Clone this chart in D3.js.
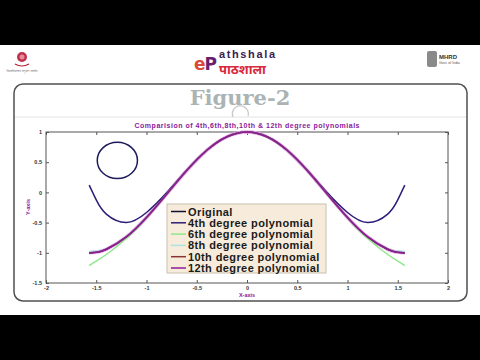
<!DOCTYPE html>
<html>
<head>
<meta charset="utf-8">
<script src="https://cdn.jsdelivr.net/npm/d3@7"></script>
<style>
  body { margin: 0; background: #000; }
  svg { display: block; }
</style>
</head>
<body>
<div id="chart"></div>
<script>
// sample points along x (radians)
const xVals = [-1.57, -1.5, -1.4, -1.2, -1.0, -0.8, -0.6, -0.4, -0.2, 0, 0.2, 0.4, 0.6, 0.8, 1.0, 1.2, 1.4, 1.5, 1.57];

const original = [-1.0, -0.990, -0.942, -0.737, -0.416, -0.029, 0.362, 0.697, 0.921, 1, 0.921, 0.697, 0.362, -0.029, -0.416, -0.737, -0.942, -0.990, -1.0];
const deg4 = [0.12, -0.125, -0.359, -0.498, -0.333, -0.007, 0.366, 0.697, 0.921, 1, 0.921, 0.697, 0.366, -0.007, -0.333, -0.498, -0.359, -0.125, 0.12];
const deg6 = [-1.212, -1.138, -1.028, -0.763, -0.422, -0.030, 0.362, 0.697, 0.921, 1, 0.921, 0.697, 0.362, -0.030, -0.422, -0.763, -1.028, -1.138, -1.212];
const deg8 = [-0.977, -0.975, -0.934, -0.736, -0.416, -0.029, 0.362, 0.697, 0.921, 1, 0.921, 0.697, 0.362, -0.029, -0.416, -0.736, -0.934, -0.975, -0.977];
const deg10 = [-1.003, -0.991, -0.942, -0.737, -0.416, -0.029, 0.362, 0.697, 0.921, 1, 0.921, 0.697, 0.362, -0.029, -0.416, -0.737, -0.942, -0.991, -1.003];
const deg12 = [-1.001, -0.990, -0.942, -0.737, -0.416, -0.029, 0.362, 0.697, 0.921, 1, 0.921, 0.697, 0.362, -0.029, -0.416, -0.737, -0.942, -0.990, -1.001];

const seriesNames = ["Original", "4th degree polynomial", "6th degree polynomial", "8th degree polynomial", "10th degree polynomial", "12th degree polynomial"];
const seriesColors = ["#10102e", "#2c1d78", "#8ee88a", "#a6e6de", "#8a3434", "#8c1c98"];
const seriesData = [original, deg4, deg6, deg8, deg10, deg12];

const xTicks = [-2, -1.5, -1, -0.5, 0, 0.5, 1, 1.5, 2];
const yTicks = [-1.5, -1, -0.5, 0, 0.5, 1];

const width = 480, height = 360;

const svg = d3.select("#chart").append("svg")
    .attr("width", width)
    .attr("height", height)
    .style("background", "#000");

// slide area
svg.append("rect")
    .attr("x", 0).attr("y", 45)
    .attr("width", width).attr("height", 270)
    .attr("fill", "#fff");

// --- header logos (rough) ---
const left = svg.append("g");
left.append("circle").attr("cx", 22).attr("cy", 57).attr("r", 5).attr("fill", "#c0304a");
left.append("circle").attr("cx", 22).attr("cy", 57).attr("r", 2.5).attr("fill", "#e88a9a");
left.append("path").attr("d", "M15,64 Q22,68 29,64").attr("stroke", "#b02030").attr("fill", "none").attr("stroke-width", 1.2);
left.append("text").attr("x", 22).attr("y", 72).attr("text-anchor", "middle")
    .attr("font-size", 3).attr("fill", "#777").attr("font-family", "Noto Sans").text("विश्वविद्यालय अनुदान आयोग");

const mid = svg.append("g");
const ep = mid.append("text").attr("x", 194).attr("y", 70)
    .attr("font-family", "DejaVu Sans").attr("font-weight", "bold").attr("font-size", 17);
ep.append("tspan").attr("fill", "#d84a3a").text("e");
ep.append("tspan").attr("fill", "#6a1f6e").attr("dx", -1).text("P");
mid.append("text").attr("x", 219).attr("y", 58)
    .attr("font-family", "Liberation Sans").attr("font-weight", "bold").attr("font-size", 11)
    .attr("fill", "#3a2050").attr("textLength", 56).text("athshala");
mid.append("text").attr("x", 219).attr("y", 74)
    .attr("font-family", "Noto Sans").attr("font-weight", "bold").attr("font-size", 13)
    .attr("fill", "#d8283a").text("पाठशाला");

const right = svg.append("g");
right.append("rect").attr("x", 427).attr("y", 51).attr("width", 10).attr("height", 16).attr("rx", 2).attr("fill", "#8a8a8a");
right.append("text").attr("x", 439).attr("y", 59)
    .attr("font-family", "Liberation Sans").attr("font-weight", "bold").attr("font-size", 6)
    .attr("fill", "#333").text("MHRD");
right.append("text").attr("x", 439).attr("y", 64)
    .attr("font-family", "Liberation Sans").attr("font-size", 3.5)
    .attr("fill", "#555").text("Govt. of India");

// --- rounded frame ---
svg.append("rect")
    .attr("x", 14).attr("y", 84)
    .attr("width", 453).attr("height", 217)
    .attr("rx", 9)
    .attr("fill", "#fff")
    .attr("stroke", "#505050")
    .attr("stroke-width", 1.5);

svg.append("text")
    .attr("x", 240).attr("y", 105)
    .attr("text-anchor", "middle")
    .attr("font-family", "DejaVu Serif")
    .attr("font-weight", "bold")
    .attr("font-size", 21)
    .attr("fill", "#abb4b4")
    .text("Figure-2");

svg.append("line")
    .attr("x1", 15).attr("x2", 466)
    .attr("y1", 117).attr("y2", 117)
    .attr("stroke", "#e2e2e2");

svg.append("path")
    .attr("d", "M233,117 A8,8 0 1 1 248,116")
    .attr("fill", "none").attr("stroke", "#c8c8c8").attr("stroke-width", 1.2);

// --- plot ---
const margin = { left: 46, top: 132, right: 448, bottom: 283 };
const x = d3.scaleLinear().domain([-2, 2]).range([margin.left, margin.right]);
const y = d3.scaleLinear().domain([-1.5, 1]).range([margin.bottom, margin.top]);

svg.append("text")
    .attr("x", 247).attr("y", 128)
    .attr("text-anchor", "middle")
    .attr("font-family", "Liberation Sans")
    .attr("font-weight", "bold")
    .attr("font-size", 7)
    .attr("fill", "#8a1a9a")
    .attr("textLength", 225)
    .text("Comparision of 4th,6th,8th,10th & 12th degree polynomials");

const frame = svg.append("g");
frame.append("rect")
    .attr("x", margin.left).attr("y", margin.top)
    .attr("width", margin.right - margin.left)
    .attr("height", margin.bottom - margin.top)
    .attr("fill", "#fff")
    .attr("stroke", "#555")
    .attr("stroke-width", 1);

const tickLen = 3;
const fmt = d => String(d);

const xAxisB = d3.axisBottom(x).tickValues(xTicks).tickSize(-tickLen).tickPadding(3).tickFormat(fmt);
const xAxisT = d3.axisTop(x).tickValues(xTicks).tickSize(-tickLen).tickFormat("");
const yAxisL = d3.axisLeft(y).tickValues(yTicks).tickSize(-tickLen).tickPadding(4).tickFormat(fmt);
const yAxisR = d3.axisRight(y).tickValues(yTicks).tickSize(-tickLen).tickFormat("");

function styleAxis(g) {
    g.select(".domain").remove();
    g.selectAll(".tick line").attr("stroke", "#555");
    g.selectAll(".tick text")
        .attr("font-family", "Liberation Sans")
        .attr("font-weight", "bold")
        .attr("font-size", 5.5)
        .attr("fill", "#333");
}

svg.append("g").attr("transform", `translate(0,${margin.bottom})`).call(xAxisB).call(styleAxis);
svg.append("g").attr("transform", `translate(0,${margin.top})`).call(xAxisT).call(styleAxis);
svg.append("g").attr("transform", `translate(${margin.left},0)`).call(yAxisL).call(styleAxis);
svg.append("g").attr("transform", `translate(${margin.right},0)`).call(yAxisR).call(styleAxis);

svg.append("text")
    .attr("x", 247).attr("y", 296.5)
    .attr("text-anchor", "middle")
    .attr("font-family", "Liberation Sans").attr("font-weight", "bold")
    .attr("font-size", 5.5).attr("fill", "#8a1a9a")
    .text("X-axis");

svg.append("text")
    .attr("transform", "translate(30,207) rotate(-90)")
    .attr("text-anchor", "middle")
    .attr("font-family", "Liberation Sans").attr("font-weight", "bold")
    .attr("font-size", 5.5).attr("fill", "#8a1a9a")
    .text("Y-axis");

const line = d3.line()
    .x((d, i) => x(xVals[i]))
    .y(d => y(d))
    .curve(d3.curveNatural);

// soft glow behind the main purple curve
svg.append("path")
    .datum(deg12)
    .attr("d", line)
    .attr("fill", "none")
    .attr("stroke", "#e7a6ee")
    .attr("stroke-width", 3.5);

seriesData.forEach((s, i) => {
    svg.append("path")
        .datum(s)
        .attr("d", line)
        .attr("fill", "none")
        .attr("stroke", seriesColors[i])
        .attr("stroke-width", 1.5);
});

// hand-drawn annotation ellipse
svg.append("ellipse")
    .attr("cx", x(-1.29)).attr("cy", y(0.53))
    .attr("rx", x(0.2) - x(0)).attr("ry", y(0) - y(0.3))
    .attr("fill", "none")
    .attr("stroke", "#1c1a5a")
    .attr("stroke-width", 1.5);

// legend
const legend = svg.append("g").attr("transform", "translate(167,204)");
legend.append("rect")
    .attr("width", 159).attr("height", 69)
    .attr("fill", "#f7ecdc")
    .attr("stroke", "#c8c0b0");

seriesNames.forEach((name, i) => {
    const ly = 7.5 + i * 11.3;
    legend.append("line")
        .attr("x1", 4).attr("x2", 19)
        .attr("y1", ly).attr("y2", ly)
        .attr("stroke", seriesColors[i])
        .attr("stroke-width", 1.5);
    legend.append("text")
        .attr("x", 21).attr("y", ly + 4)
        .attr("font-family", "Liberation Sans")
        .attr("font-weight", "bold")
        .attr("font-size", 11)
        .attr("fill", "#1a1a1a")
        .attr("letter-spacing", 0.4)
        .text(name);
});
</script>
</body>
</html>
